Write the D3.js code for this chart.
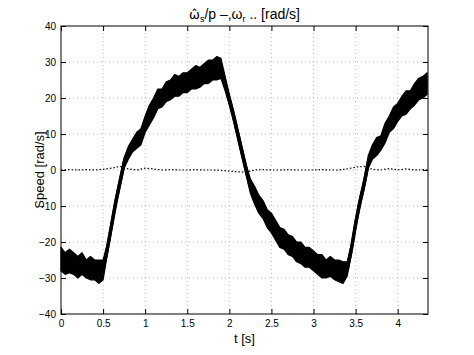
<!DOCTYPE html>
<html>
<head>
<meta charset="utf-8">
<script src="https://cdn.jsdelivr.net/npm/d3@7"></script>
<style>
  body { margin: 0; background: #fff; }
  svg text { font-family: "Liberation Sans", Arial, sans-serif; fill: #000; }
</style>
</head>
<body>
<svg id="chart" width="474" height="355"></svg>
<script>
// time grid of the estimated speed trace (s)
const tEst = d3.range(88).map(i => +(i * 0.05).toFixed(2));

// centre of the estimated speed band (rad/s)
const speedMid = [
  -25, -25.5, -26, -26, -26.5, -26.5, -27, -27, -27.5, -28, -27.5,
  -22, -15.5, -9, -3.5, 2, 5, 6.5, 8, 9.5,
  12.5, 15, 17.5, 19.5, 20.5, 21.5, 22.5, 23, 23.5, 24, 24.5, 25, 25.5, 26, 26.5, 27, 27.5, 28, 28,
  24, 19.5, 15, 10, 5, 0, -4.5, -7, -9, -11, -13, -15, -16.5, -18, -19.5, -20.5, -21.5, -22.5, -23.5, -24, -24.5,
  -25.5, -26, -26.5, -27, -27, -27.5, -28, -28, -27.5,
  -22, -15, -9, -4, 2, 5, 6.5, 7.5, 10, 12.5, 14.5, 16, 17.5, 18.5, 19.5, 21, 22, 23, 23.5
];
// spread of the noise above / below the centre
const bandUp = [
  3.5, 2.5, 4, 3, 2.5, 3.5, 2, 3, 2.5, 3, 2.5,
  1.5, 1.5, 1.5, 1.5, 1.5, 1.5, 2, 2.5, 2,
  2.5, 3, 2.5, 3, 2, 3, 2.5, 3.5, 2.5, 3, 2.5, 3, 3.5, 2.5, 3, 3.5, 3, 3.5, 3,
  2, 1.5, 1.5, 1.5, 1.5, 1.5, 2, 2.5, 2, 2.5, 2, 3, 2.5, 2, 3, 2.5, 3, 2.5, 3.5, 2.5, 3,
  3, 2.5, 3, 2, 3, 2.5, 3, 2.5, 2,
  1.5, 1.5, 1.5, 1.5, 2, 2, 2.5, 2, 3, 2.5, 3, 2.5, 3, 3.5, 2.5, 3, 3.5, 3, 3.5
];
const bandDown = [
  3, 3.5, 2.5, 3, 3.5, 2.5, 3, 3.5, 3, 3.5, 3,
  1.5, 1.5, 1.5, 1.5, 1.5, 2, 1.5, 2, 2.5,
  2, 2.5, 3, 2.5, 3, 2.5, 3, 2.5, 3, 2.5, 3, 2.5, 3, 3, 2.5, 3, 2.5, 3, 2.5,
  2, 1.5, 1.5, 1.5, 1.5, 1.5, 2, 2.5, 3, 2.5, 3, 2.5, 3, 3.5, 2.5, 3, 2.5, 3, 2.5, 3, 2.5,
  2.5, 3, 3.5, 3, 2.5, 3, 3, 3.5, 2,
  1.5, 1.5, 1.5, 1.5, 1.5, 2, 2.5, 2, 2.5, 2, 3, 2.5, 2.5, 3, 2.5, 3, 2.5, 3, 2.5
];

// measured rotor speed (dotted trace)
const tRot = [0, 0.1, 0.2, 0.3, 0.4, 0.5, 0.6, 0.7, 0.8, 0.9, 1.0, 1.1, 1.2, 1.3, 1.4, 1.5, 1.6, 1.7, 1.8, 1.9,
  2.0, 2.1, 2.2, 2.3, 2.4, 2.5, 2.6, 2.7, 2.8, 2.9, 3.0, 3.1, 3.2, 3.3, 3.4, 3.5, 3.6, 3.7, 3.8, 3.9,
  4.0, 4.1, 4.2, 4.3, 4.36];
const speedRot = [0, 0.1, 0, 0.1, 0, 0.2, 0.5, 1, 0.3, 0, 0.5, 0.3, 0, 0.1, 0, 0, 0.1, 0, 0, -0.1,
  -0.3, -0.5, -0.6, 0, 0.1, 0, 0, 0.1, 0, 0, 0, 0.1, 0, 0, 0.3, 0.8, 1, 0.2, 0, 0.4,
  0, 0.3, 0, 0.1, 0];

const xTicks = [0, 0.5, 1, 1.5, 2, 2.5, 3, 3.5, 4];
const yTicks = [-40, -30, -20, -10, 0, 10, 20, 30, 40];

const W = 474, H = 355;
const margin = { top: 26, right: 46, bottom: 41, left: 61 };
const svg = d3.select('#chart');

const x = d3.scaleLinear().domain([0, 4.36]).range([margin.left, W - margin.right]);
const y = d3.scaleLinear().domain([-40, 40]).range([H - margin.bottom, margin.top]);

// grid
svg.append('g').selectAll('line').data(xTicks.slice(1)).enter().append('line')
  .attr('x1', d => x(d)).attr('x2', d => x(d))
  .attr('y1', y(-40)).attr('y2', y(40))
  .attr('stroke', '#aaa').attr('stroke-width', 0.8).attr('stroke-dasharray', '1,3');
svg.append('g').selectAll('line').data(yTicks.slice(1, -1)).enter().append('line')
  .attr('x1', x(0)).attr('x2', x(4.36))
  .attr('y1', d => y(d)).attr('y2', d => y(d))
  .attr('stroke', '#aaa').attr('stroke-width', 0.8).attr('stroke-dasharray', '1,3');

// estimated speed: noisy band + centre stroke
const rows = tEst.map((t, i) => ({ t, mid: speedMid[i], hi: speedMid[i] + bandUp[i], lo: speedMid[i] - bandDown[i] }));
svg.append('path').datum(rows)
  .attr('d', d3.area().x(d => x(d.t)).y0(d => y(d.lo)).y1(d => y(d.hi)))
  .attr('fill', '#000').attr('stroke', '#000').attr('stroke-width', 1.2).attr('stroke-linejoin', 'round');
svg.append('path').datum(rows)
  .attr('d', d3.line().x(d => x(d.t)).y(d => y(d.mid)))
  .attr('fill', 'none').attr('stroke', '#000').attr('stroke-width', 3.5).attr('stroke-linejoin', 'round');

// rotor speed dotted
svg.append('path').datum(tRot.map((t, i) => [t, speedRot[i]]))
  .attr('d', d3.line().x(d => x(d[0])).y(d => y(d[1])))
  .attr('fill', 'none').attr('stroke', '#000').attr('stroke-width', 1.2).attr('stroke-dasharray', '1.5,2');

// axes with inward ticks, mirrored on all sides
const axB = d3.axisBottom(x).tickValues(xTicks).tickSizeInner(-5).tickSizeOuter(0).tickPadding(6).tickFormat(d3.format('~g'));
const axT = d3.axisTop(x).tickValues(xTicks).tickSizeInner(-5).tickSizeOuter(0).tickFormat('');
const axL = d3.axisLeft(y).tickValues(yTicks).tickSizeInner(-5).tickSizeOuter(0).tickPadding(5).tickFormat(d => d < 0 ? '\u2212' + (-d) : d);
const axR = d3.axisRight(y).tickValues(yTicks).tickSizeInner(-5).tickSizeOuter(0).tickFormat('');

function styleAxis(g) {
  g.select('.domain').remove();
  g.selectAll('line').attr('stroke', '#000');
  g.selectAll('text').style('font-size', '10px').attr('font-family', null);
}
svg.append('g').attr('transform', `translate(0,${y(-40)})`).call(axB).call(styleAxis);
svg.append('g').attr('transform', `translate(0,${y(40)})`).call(axT).call(styleAxis);
svg.append('g').attr('transform', `translate(${x(0)},0)`).call(axL).call(styleAxis);
svg.append('g').attr('transform', `translate(${x(4.36)},0)`).call(axR).call(styleAxis);

// frame
svg.append('rect')
  .attr('x', x(0)).attr('y', y(40))
  .attr('width', x(4.36) - x(0)).attr('height', y(-40) - y(40))
  .attr('fill', 'none').attr('stroke', '#000').attr('stroke-width', 1);

// labels
const title = svg.append('text').attr('x', (x(0) + x(4.36)) / 2).attr('y', 19)
  .attr('text-anchor', 'middle').style('font-size', '14px');
title.append('tspan').style('font-family', '"DejaVu Sans", sans-serif').style('font-size', '13px').text('\u03C9\u0302');
title.append('tspan').attr('dy', 3).style('font-size', '9px').text('s');
title.append('tspan').attr('dy', -3).text('/p \u2013,\u03C9');
title.append('tspan').attr('dy', 3).style('font-size', '9px').text('r');
title.append('tspan').attr('dy', -3).text(' .. [rad/s]');

svg.append('text').attr('x', (x(0) + x(4.36)) / 2).attr('y', 343)
  .attr('text-anchor', 'middle').style('font-size', '13px').text('t [s]');

svg.append('text').attr('transform', `translate(44,${y(0)}) rotate(-90)`)
  .attr('text-anchor', 'middle').style('font-size', '13px').text('Speed [rad/s]');
</script>
</body>
</html>
